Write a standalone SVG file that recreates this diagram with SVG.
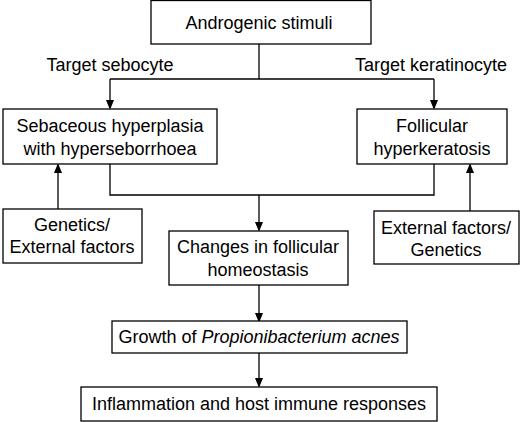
<svg xmlns="http://www.w3.org/2000/svg" width="520" height="422" viewBox="0 0 520 422">
<defs>
<marker id="ah" markerWidth="10" markerHeight="12" refX="10" refY="5" orient="auto" markerUnits="userSpaceOnUse" viewBox="0 0 12 10">
<path d="M0,0 L12,5 L0,10 Z" fill="#000"/>
</marker>
</defs>
<style>
.box{fill:#fff;stroke:#000;stroke-width:1.3}
.t{font-family:"Liberation Sans",Arial,sans-serif;font-size:18px;fill:#000;text-anchor:middle}
.c{fill:none;stroke:#000;stroke-width:1.3}
</style>
<rect width="520" height="422" fill="#fff"/>
<g id="connectors">
<polyline class="c" points="259,44 259,79"/>
<polyline class="c" points="110,79 434,79"/>
<polyline class="c" points="110,79 110,108" marker-end="url(#ah)"/>
<polyline class="c" points="434,79 434,108" marker-end="url(#ah)"/>
<polyline class="c" points="58,209 58,165" marker-end="url(#ah)"/>
<polyline class="c" points="470,211 470,165" marker-end="url(#ah)"/>
<polyline class="c" points="110,164 110,195 434,195 434,164"/>
<polyline class="c" points="259,195 259,230" marker-end="url(#ah)"/>
<polyline class="c" points="259,285 259,321" marker-end="url(#ah)"/>
<polyline class="c" points="259,353 259,386" marker-end="url(#ah)"/>
<text class="t" x="110" y="71">Target sebocyte</text>
<text class="t" x="431" y="71">Target keratinocyte</text>
</g>
<g id="androgenic">
<rect class="box" x="151" y="0.5" width="220" height="43.5"/>
<text class="t" x="259" y="29">Androgenic stimuli</text>
</g>
<g id="sebaceous">
<rect class="box" x="3" y="109" width="214" height="55"/>
<text class="t" x="110" y="132">Sebaceous hyperplasia</text>
<text class="t" x="110" y="155">with hyperseborrhoea</text>
</g>
<g id="follicular">
<rect class="box" x="357" y="109" width="150" height="55"/>
<text class="t" x="432" y="132">Follicular</text>
<text class="t" x="432" y="155">hyperkeratosis</text>
</g>
<g id="genetics">
<rect class="box" x="3" y="209" width="139" height="54"/>
<text class="t" x="72" y="231">Genetics/</text>
<text class="t" x="72" y="253">External factors</text>
</g>
<g id="external">
<rect class="box" x="374" y="211" width="145" height="53"/>
<text class="t" x="446" y="234">External factors/</text>
<text class="t" x="446" y="256">Genetics</text>
</g>
<g id="changes">
<rect class="box" x="169" y="231" width="179" height="54"/>
<text class="t" x="258" y="253">Changes in follicular</text>
<text class="t" x="258" y="276">homeostasis</text>
</g>
<g id="growth">
<rect class="box" x="112" y="321" width="295" height="32"/>
<text class="t" x="259" y="343">Growth of <tspan font-style="italic">Propionibacterium acnes</tspan></text>
</g>
<g id="inflammation">
<rect class="box" x="81" y="387" width="356" height="34"/>
<text class="t" x="259" y="410">Inflammation and host immune responses</text>
</g>
</svg>
